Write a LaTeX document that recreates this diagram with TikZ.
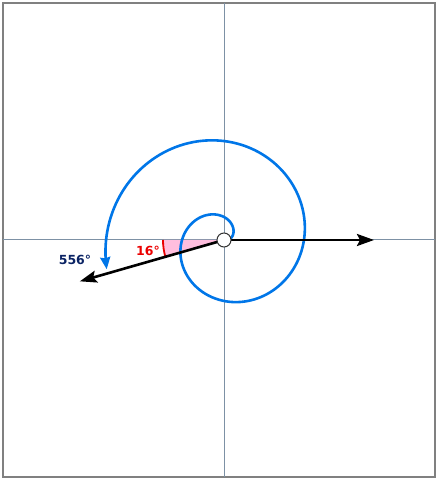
\documentclass[tikz,border=0pt]{standalone}
\usepackage{fontspec}
\setmainfont{DejaVu Sans}
\usepackage{xcolor}
\usetikzlibrary{arrows.meta}

\definecolor{axisgray}{RGB}{125,145,165}
\definecolor{framegray}{RGB}{128,128,128}
\definecolor{spiralblue}{RGB}{0,118,232}
\definecolor{labelnavy}{RGB}{10,35,100}
\definecolor{anglered}{RGB}{235,0,0}
\definecolor{wedgepink}{RGB}{255,190,222}

\begin{document}
\begin{tikzpicture}[x=1pt, y=1pt,
  axisline/.style={draw=axisgray, line width=1pt},
  ray/.style={line width=2.6pt, -{Stealth[length=17pt, width=12pt, inset=3pt]}},
  spiral/.style={draw=spiralblue, line width=2.6pt, -{Stealth[length=12pt, width=10pt, inset=1pt]}},
  anglelabel/.style={font=\fontsize{12.5}{14}\selectfont\bfseries}]

\useasboundingbox (-224,-241) rectangle (214,240);
\draw[framegray, line width=1.2pt] (-221,-237) rectangle (211,237);

% axes
\coordinate (xl) at (-221,0);
\coordinate (xr) at (211,0);
\coordinate (yb) at (0,-237);
\coordinate (yt) at (0,237);
\draw[axisline] (xl) -- (xr);
\draw[axisline] (yb) -- (yt);

% reference angle
\coordinate (O) at (0,0);
\fill[wedgepink] (O) -- (180:61) arc[start angle=180, end angle=196, radius=61] -- cycle;
\draw[anglered, line width=1.8pt] (180:61) arc[start angle=180, end angle=196, radius=61];

% rotation
\draw[spiral] plot[domain=0:554, samples=240, variable=\t]
  ({(4+0.211*\t)*cos(\t)}, {(4+0.211*\t)*sin(\t)});

% sides
\coordinate (init) at (0:150);
\coordinate (term) at (196:150);
\draw[ray] (O) -- (init);
\draw[ray] (O) -- (term);

\node[circle, draw=black!80, fill=white, line width=1pt, minimum size=14pt, inner sep=0pt] (origin) at (O) {};

\node[anglelabel, text=anglered] (ref) at (-76,-11) {16°};
\node[anglelabel, text=labelnavy] (total) at (-149,-20) {556°};

\end{tikzpicture}
\end{document}
